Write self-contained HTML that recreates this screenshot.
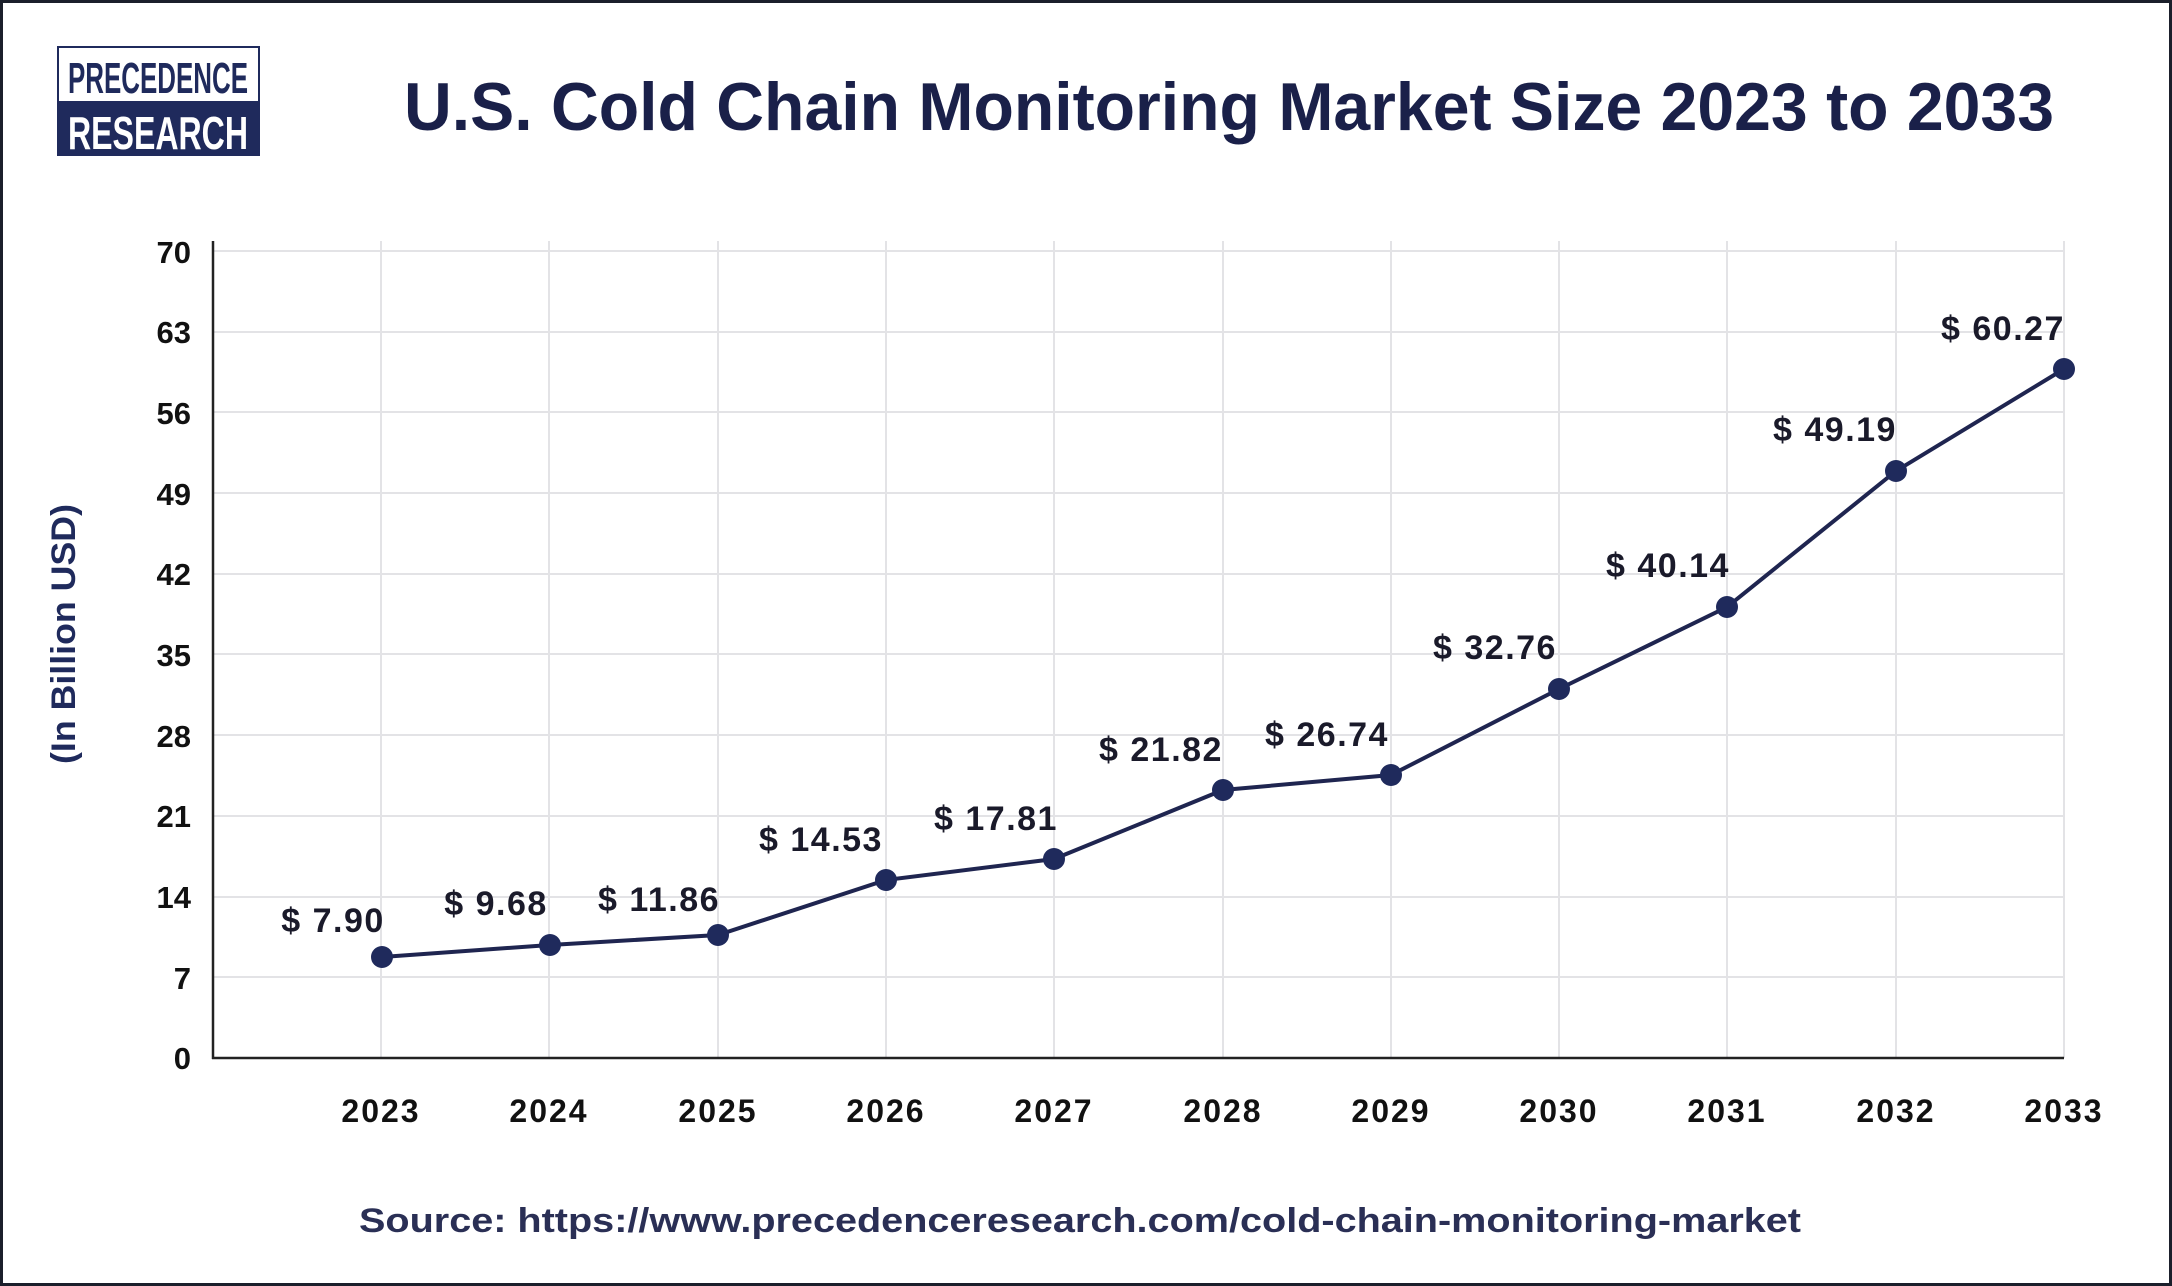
<!DOCTYPE html>
<html><head><meta charset="utf-8"><style>
html,body{margin:0;padding:0;background:#fff}
svg{display:block}
text{font-family:"Liberation Sans",sans-serif;font-weight:bold}
</style></head><body>
<svg width="2172" height="1286" viewBox="0 0 2172 1286" xmlns="http://www.w3.org/2000/svg">
<rect x="1.5" y="1.5" width="2169" height="1283" fill="#fff" stroke="#1b1f2b" stroke-width="3"/>
<!-- logo -->
<rect x="58" y="47" width="201" height="108" fill="#fff" stroke="#1f2a5c" stroke-width="2"/>
<rect x="58" y="101" width="201" height="54" fill="#1f2a5c"/>
<text x="158" y="93" font-size="44" fill="#1f2a5c" text-anchor="middle" textLength="180" lengthAdjust="spacingAndGlyphs">PRECEDENCE</text>
<text x="158" y="149" font-size="46" fill="#fff" text-anchor="middle" font-weight="normal" textLength="180" lengthAdjust="spacingAndGlyphs">RESEARCH</text>
<!-- title -->
<text x="404" y="130" font-size="68" fill="#1a2049" textLength="1650" lengthAdjust="spacingAndGlyphs">U.S. Cold Chain Monitoring Market Size 2023 to 2033</text>
<!-- grid -->
<g stroke="#e3e3e6" stroke-width="2">
<line x1="213" y1="251" x2="2064" y2="251"/>
<line x1="213" y1="332" x2="2064" y2="332"/>
<line x1="213" y1="412" x2="2064" y2="412"/>
<line x1="213" y1="493" x2="2064" y2="493"/>
<line x1="213" y1="574" x2="2064" y2="574"/>
<line x1="213" y1="654" x2="2064" y2="654"/>
<line x1="213" y1="735" x2="2064" y2="735"/>
<line x1="213" y1="816" x2="2064" y2="816"/>
<line x1="213" y1="897" x2="2064" y2="897"/>
<line x1="213" y1="977" x2="2064" y2="977"/>
<line x1="381" y1="241" x2="381" y2="1058"/>
<line x1="549" y1="241" x2="549" y2="1058"/>
<line x1="718" y1="241" x2="718" y2="1058"/>
<line x1="886" y1="241" x2="886" y2="1058"/>
<line x1="1054" y1="241" x2="1054" y2="1058"/>
<line x1="1223" y1="241" x2="1223" y2="1058"/>
<line x1="1391" y1="241" x2="1391" y2="1058"/>
<line x1="1559" y1="241" x2="1559" y2="1058"/>
<line x1="1727" y1="241" x2="1727" y2="1058"/>
<line x1="1896" y1="241" x2="1896" y2="1058"/>
<line x1="2064" y1="241" x2="2064" y2="1058"/>
</g>
<line x1="213" y1="241" x2="213" y2="1059" stroke="#222" stroke-width="2.5"/>
<line x1="212" y1="1058" x2="2064" y2="1058" stroke="#222" stroke-width="2.5"/>
<!-- y ticks -->
<g font-size="31" fill="#111" text-anchor="end">
<text x="191" y="263">70</text><text x="191" y="343">63</text><text x="191" y="424">56</text>
<text x="191" y="505">49</text><text x="191" y="585">42</text><text x="191" y="666">35</text>
<text x="191" y="747">28</text><text x="191" y="827">21</text><text x="191" y="908">14</text>
<text x="191" y="989">7</text><text x="191" y="1069">0</text>
</g>
<text transform="translate(75,634) rotate(-90)" font-size="34" fill="#1f2a5c" text-anchor="middle" textLength="260" lengthAdjust="spacingAndGlyphs">(In Billion USD)</text>
<!-- x ticks -->
<g font-size="32" fill="#111" text-anchor="middle" letter-spacing="2">
<text x="381" y="1122">2023</text><text x="549" y="1122">2024</text><text x="718" y="1122">2025</text>
<text x="886" y="1122">2026</text><text x="1054" y="1122">2027</text><text x="1223" y="1122">2028</text>
<text x="1391" y="1122">2029</text><text x="1559" y="1122">2030</text><text x="1727" y="1122">2031</text>
<text x="1896" y="1122">2032</text><text x="2064" y="1122">2033</text>
</g>
<!-- series -->
<polyline fill="none" stroke="#1f2550" stroke-width="4" points="382,957 550,945 718,935 886,880 1054,859 1223,790 1391,775 1559,689 1727,607 1896,471 2064,369"/>
<g fill="#1f2a5c">
<circle cx="382" cy="957" r="11"/><circle cx="550" cy="945" r="11"/><circle cx="718" cy="935" r="11"/>
<circle cx="886" cy="880" r="11"/><circle cx="1054" cy="859" r="11"/><circle cx="1223" cy="790" r="11"/>
<circle cx="1391" cy="775" r="11"/><circle cx="1559" cy="689" r="11"/><circle cx="1727" cy="607" r="11"/>
<circle cx="1896" cy="471" r="11"/><circle cx="2064" cy="369" r="11"/>
</g>
<g font-size="34" fill="#1a1a2a" text-anchor="middle" letter-spacing="1.5">
<text x="333" y="932">$ 7.90</text>
<text x="496" y="915">$ 9.68</text>
<text x="659" y="911">$ 11.86</text>
<text x="821" y="851">$ 14.53</text>
<text x="996" y="830">$ 17.81</text>
<text x="1161" y="761">$ 21.82</text>
<text x="1327" y="746">$ 26.74</text>
<text x="1495" y="659">$ 32.76</text>
<text x="1668" y="577">$ 40.14</text>
<text x="1835" y="441">$ 49.19</text>
<text x="2003" y="340">$ 60.27</text>
</g>
<text x="359" y="1232" font-size="34" fill="#2a2f55" textLength="1442" lengthAdjust="spacingAndGlyphs">Source: https://www.precedenceresearch.com/cold-chain-monitoring-market</text>
</svg>
</body></html>
